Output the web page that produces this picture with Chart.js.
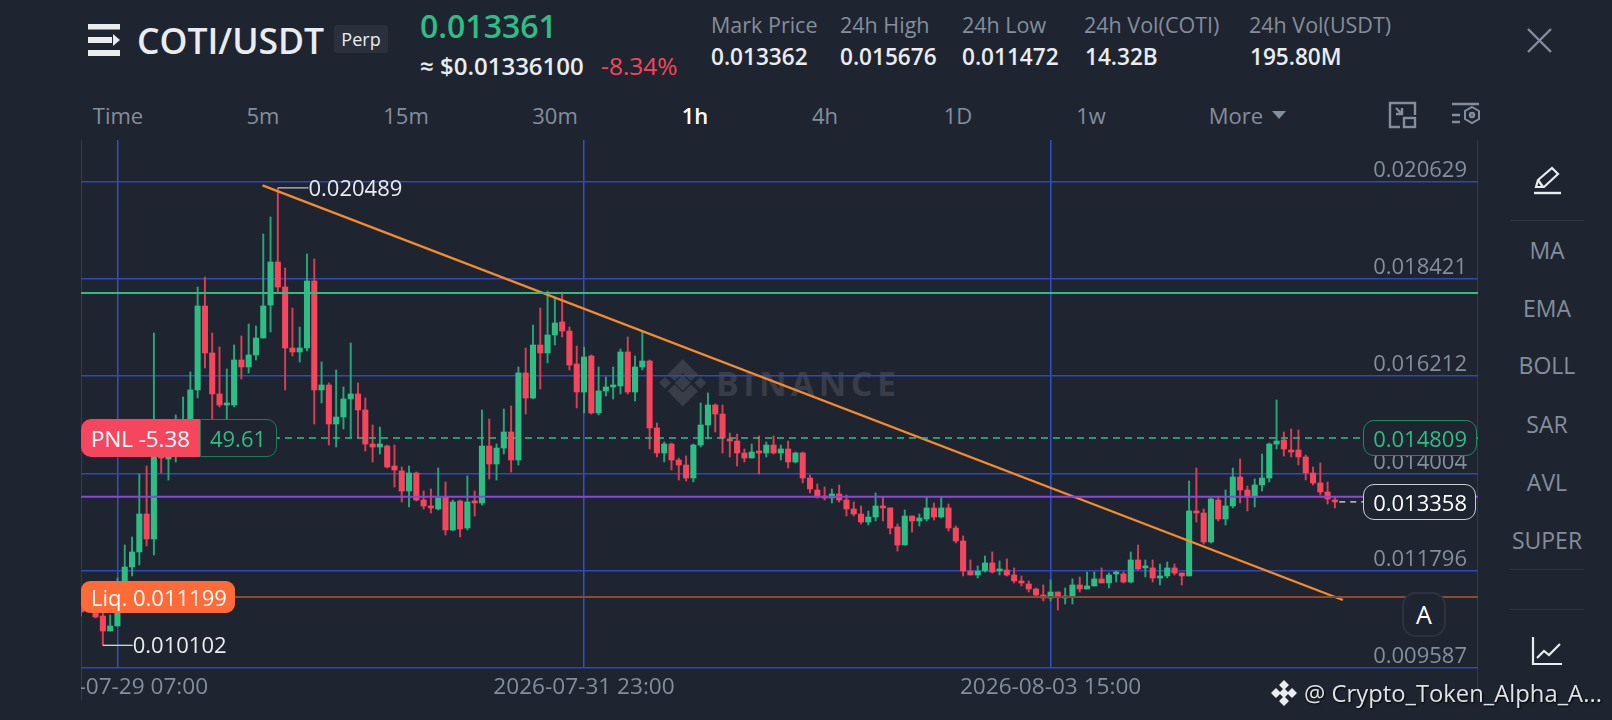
<!DOCTYPE html>
<html><head><meta charset="utf-8">
<script src="https://cdn.jsdelivr.net/npm/chart.js@4"></script>
<style>
html,body{margin:0;padding:0;background:#1f2530;width:1612px;height:720px;overflow:hidden;font-family:"Open Sans",sans-serif}
.t{position:absolute;white-space:nowrap;line-height:1;transform:translateY(-50%)}
.c{transform:translate(-50%,-50%)}
.lab{color:#848e9c;font-size:21.5px;font-family:"Open Sans"}
.val{color:#eaecef;font-size:22.6px;font-weight:600;font-family:"Open Sans"}
.tab{color:#848e9c;font-size:22px;font-family:"Open Sans"}
.side{color:#848e9c;font-size:23px;font-family:"Open Sans"}
.box{position:absolute;box-sizing:border-box}
svg{position:absolute;overflow:visible}
#wrap{position:absolute;left:81px;top:140px;width:1397px;height:560px}
.vb{position:absolute;top:140px;height:560px;width:1px;background:#343a46}
.sep{position:absolute;left:1510px;width:74px;height:1px;background:#2f3541}
</style></head><body>
<div class="vb" style="left:81px"></div><div class="vb" style="left:1477px"></div>

<svg style="left:0;top:0" width="1612" height="720" fill="none">
 <g fill="#eaecef"><rect x="88" y="24" width="32" height="5.5"/><rect x="88" y="37" width="24" height="6"/><path d="M113 34l7 6-7 6z"/><rect x="88" y="50" width="32" height="6"/></g>
 <g stroke="#848e9c" stroke-width="2.4"><path d="M1528 29l23 23M1551 29l-23 23" />
 <path d="M1400 127h-10v-24h25v12"/><path d="M1396 108l6 6M1396 114h6v-6"/><rect x="1404" y="118" width="11" height="9"/>
 <path d="M1452 104h27M1452 115h8M1452 122h8"/><path d="M1472 107l7 4v8l-7 4-7-4v-8z" stroke-width="2"/><circle cx="1472" cy="115" r="2"/>
 </g>
 <g stroke="#eaecef" stroke-width="2.4"><path d="M1534 193h27"/><path d="M1536 187l2-7 14-12 6 6-14 13z" stroke-width="2.2"/><path d="M1538 180l5 7"/></g>
 <g stroke="#eaecef" stroke-width="2.2"><path d="M1533 637v27h29"/><path d="M1537 658l7-7 5 4 11-11"/></g>
 <path d="M1272 111h14l-7 8z" fill="#848e9c"/>
</svg>

<!-- watermark under the transparent canvas -->
<svg style="left:0;top:0" width="1612" height="720"><g fill="#383d48"><path d="M682.7 359l15.3 15.5-7 6.5-8.3-8-8.2 8-7-6.5zM682.7 406.4l15.3-15.5-7-6.5-8.3 8-8.2-8-7 6.5zM682.7 374.7l8 8-8 8-8-8zM665 376.7l6 6-6 6-6-6zM700.4 376.7l6 6-6 6-6-6z"/></g></svg>
<div class="t" style="left:716px;top:383px;color:#383d48;font:700 34px 'Open Sans';letter-spacing:4.4px">BINANCE</div>

<div id="wrap"><canvas id="c" width="1397" height="560"></canvas></div>

<div class="t" style="left:137px;top:40px;color:#eaecef;font:600 35.5px 'Open Sans'">COTI/USDT</div>
<div class="box" style="left:334px;top:25px;width:54px;height:28px;background:#2a303c;border-radius:3px"></div>
<div class="t c" style="left:361px;top:39px;color:#eaecef;font:18px 'Open Sans'">Perp</div>
<div class="t" style="left:420px;top:25px;color:#2ebd85;font:600 32px 'Open Sans'">0.013361</div>
<div class="t" style="left:420px;top:65px;color:#eaecef;font:600 24px 'Open Sans'">≈ $0.01336100</div>
<div class="t" style="left:601px;top:65px;color:#f6465d;font:24.5px 'Open Sans'">-8.34%</div>

<div class="t lab" style="left:711px;top:25px">Mark Price</div><div class="t val" style="left:711px;top:57px">0.013362</div>
<div class="t lab" style="left:840px;top:25px">24h High</div><div class="t val" style="left:840px;top:57px">0.015676</div>
<div class="t lab" style="left:962px;top:25px">24h Low</div><div class="t val" style="left:962px;top:57px">0.011472</div>
<div class="t lab" style="left:1084px;top:25px">24h Vol(COTI)</div><div class="t val" style="left:1085px;top:57px">14.32B</div>
<div class="t lab" style="left:1249px;top:25px">24h Vol(USDT)</div><div class="t val" style="left:1250px;top:57px">195.80M</div>

<div class="t c tab" style="left:118px;top:115px">Time</div>
<div class="t c tab" style="left:263px;top:115px">5m</div>
<div class="t c tab" style="left:406px;top:115px">15m</div>
<div class="t c tab" style="left:555px;top:115px">30m</div>
<div class="t c tab" style="left:695px;top:115px;color:#fff;font-weight:600">1h</div>
<div class="t c tab" style="left:825px;top:115px">4h</div>
<div class="t c tab" style="left:958px;top:115px">1D</div>
<div class="t c tab" style="left:1091px;top:115px">1w</div>
<div class="t c tab" style="left:1236px;top:115px">More</div>

<div class="sep" style="top:220px"></div><div class="sep" style="top:569px"></div><div class="sep" style="top:609px"></div>
<div class="t c side" style="left:1547px;top:250px">MA</div>
<div class="t c side" style="left:1547px;top:308px">EMA</div>
<div class="t c side" style="left:1547px;top:365px">BOLL</div>
<div class="t c side" style="left:1547px;top:424px">SAR</div>
<div class="t c side" style="left:1547px;top:482px">AVL</div>
<div class="t c side" style="left:1547px;top:540px">SUPER</div>

<div class="box" style="left:81px;top:419px;width:119px;height:38px;background:#f6465d;border-radius:10px 0 0 10px"></div>
<div class="t" style="left:91px;top:438px;color:#fff;font:22.3px 'Open Sans'">PNL -5.38</div>
<div class="box" style="left:200px;top:419px;width:77px;height:38px;background:#1f2530;border:1.5px solid #1f7a5a;border-radius:0 10px 10px 0"></div>
<div class="t c" style="left:238px;top:438px;color:#2ebd85;font:22px 'Open Sans'">49.61</div>
<div class="box" style="left:81px;top:581px;width:154px;height:32px;background:#ff6b38;border-radius:9px"></div>
<div class="t" style="left:91px;top:597px;color:#fff;font:22px 'Open Sans'">Liq. 0.011199</div>

<div class="box" style="left:1363px;top:420px;width:114px;height:36px;background:#1f2530;border:1.5px solid #1f8a63;border-radius:11px"></div>
<div class="t" style="right:145px;top:438px;color:#2ebd85;font:22px 'Open Sans'">0.014809</div>
<div class="box" style="left:1363px;top:484px;width:113px;height:36px;background:#1f2530;border:1.5px solid #c9ccd1;border-radius:11px"></div>
<div class="t" style="right:145px;top:502px;color:#fff;font:22px 'Open Sans'">0.013358</div>

<div class="box" style="left:1402px;top:592px;width:44px;height:45px;background:#1f2530;border:2px solid #2c323e;border-radius:14px"></div>
<div class="t c" style="left:1424px;top:614px;color:#fff;font:25px 'Open Sans'">A</div>

<svg style="left:0;top:0" width="1612" height="720"><g fill="#eaecef"><path d="M1284 680l5 5-5 5-5-5zM1284 696l5 5-5 5-5-5zM1276 688l5 5-5 5-5-5zM1292 688l5 5-5 5-5-5zM1284 688l5 5-5 5-5-5z"/></g></svg>
<div class="t" style="left:1304px;top:693px;color:#dfe2e6;font:23.8px 'Open Sans';text-shadow:1px 1px 2px #000">@ Crypto_Token_Alpha_A...</div>

<script>
const opens=[0.011131,0.011131,0.010836,0.010768,0.010427,0.010541,0.011358,0.011881,0.012222,0.013084,
0.012517,0.014764,0.014333,0.014537,0.014651,0.014991,0.015900,0.017807,0.016740,0.015809,
0.015559,0.015559,0.016581,0.016422,0.016695,0.017080,0.017829,0.018806,0.018238,0.016853,
0.016763,0.016853,0.018374,0.015900,0.016013,0.015127,0.015286,0.015696,0.015809,0.015446,
0.014673,0.014605,0.014628,0.014174,0.014060,0.013606,0.014015,0.013402,0.013266,0.013198,
0.013470,0.012721,0.013379,0.012766,0.013357,0.013334,0.014628,0.014219,0.014582,0.014946,
0.014310,0.016286,0.015718,0.016921,0.016740,0.017148,0.017444,0.017239,0.016490,0.015854,
0.016672,0.015378,0.015877,0.015968,0.015991,0.016763,0.015854,0.016422,0.016558,0.015037,
0.014469,0.014673,0.014310,0.014196,0.013901,0.014650,0.015105,0.015559,0.015354,0.014787,
0.014741,0.014469,0.014355,0.014491,0.014469,0.014650,0.014469,0.014560,0.014265,0.014469,
0.013901,0.013629,0.013470,0.013447,0.013538,0.013402,0.013198,0.013084,0.012902,0.013016,
0.013266,0.013221,0.012789,0.012380,0.013039,0.012925,0.012970,0.013221,0.013016,0.013221,
0.012766,0.012471,0.011790,0.011699,0.011790,0.011972,0.011790,0.011813,0.011699,0.011563,
0.011495,0.011381,0.011245,0.011176,0.011313,0.011176,0.011222,0.011472,0.011381,0.011450,
0.011609,0.011518,0.011722,0.011722,0.011540,0.012040,0.011859,0.011859,0.011631,0.011677,
0.011859,0.011745,0.011677,0.013152,0.013107,0.012449,0.013402,0.012970,0.013266,0.013924,
0.013629,0.013470,0.013743,0.013901,0.014673,0.014764,0.014537,0.014537,0.014378,0.014015,
0.013788,0.013584,0.013402];
const closes=[0.010859,0.010904,0.010745,0.010427,0.010541,0.011358,0.011881,0.012222,0.013084,0.012517,
0.014423,0.014355,0.014378,0.014764,0.014991,0.015900,0.017807,0.016740,0.015809,0.015559,
0.015605,0.016581,0.016422,0.016695,0.017080,0.017807,0.018806,0.018238,0.016853,0.016763,
0.016853,0.018374,0.015900,0.016013,0.015127,0.015286,0.015696,0.015809,0.015446,0.014673,
0.014605,0.014673,0.014151,0.014083,0.013606,0.014015,0.013402,0.013266,0.013221,0.013447,
0.012721,0.013357,0.012743,0.013357,0.013334,0.014628,0.014219,0.014582,0.014946,0.014310,
0.016286,0.015718,0.016921,0.016740,0.017148,0.017421,0.017239,0.016467,0.015854,0.016649,
0.015378,0.015877,0.015968,0.016013,0.016763,0.015854,0.016422,0.016558,0.015037,0.014469,
0.014673,0.014310,0.014196,0.013901,0.014650,0.015105,0.015559,0.015354,0.014810,0.014741,
0.014469,0.014355,0.014491,0.014469,0.014650,0.014469,0.014560,0.014265,0.014469,0.013901,
0.013652,0.013470,0.013447,0.013538,0.013402,0.013198,0.013084,0.012902,0.013016,0.013266,
0.013221,0.012766,0.012380,0.013039,0.012925,0.012993,0.013221,0.013016,0.013221,0.012766,
0.012471,0.011790,0.011699,0.011790,0.011972,0.011767,0.011836,0.011699,0.011563,0.011518,
0.011381,0.011245,0.011176,0.011313,0.011199,0.011222,0.011472,0.011381,0.011450,0.011609,
0.011518,0.011699,0.011745,0.011540,0.012040,0.011836,0.011881,0.011631,0.011677,0.011859,
0.011745,0.011677,0.013152,0.013107,0.012449,0.013425,0.012970,0.013266,0.013924,0.013629,
0.013470,0.013743,0.013901,0.014673,0.014741,0.014560,0.014491,0.014378,0.014015,0.013788,
0.013584,0.013425,0.013358];
const highs=[0.011358,0.011313,0.010949,0.010836,0.010790,0.011631,0.012381,0.012562,0.013992,0.014174,
0.017194,0.015104,0.014991,0.015332,0.015741,0.016309,0.018238,0.018465,0.017194,0.016876,
0.016377,0.016922,0.017126,0.017398,0.017353,0.019442,0.019828,0.020489,0.018669,0.017761,
0.017330,0.018988,0.018874,0.016536,0.016059,0.016354,0.015968,0.016967,0.016059,0.015718,
0.015105,0.015059,0.014650,0.014650,0.014151,0.014174,0.014037,0.013606,0.013652,0.014128,
0.013811,0.013402,0.013402,0.013947,0.013606,0.015446,0.015241,0.014673,0.015468,0.015536,
0.016422,0.016853,0.017376,0.017761,0.018147,0.017989,0.018079,0.017330,0.016899,0.016876,
0.016695,0.016422,0.016195,0.016422,0.016830,0.017103,0.016672,0.017239,0.016581,0.015150,
0.014719,0.014696,0.014355,0.014401,0.014673,0.015605,0.015832,0.015582,0.015559,0.014923,
0.014900,0.014560,0.014673,0.014855,0.014719,0.014855,0.014650,0.014741,0.014491,0.014491,
0.013970,0.013765,0.013697,0.013652,0.013743,0.013516,0.013357,0.013266,0.013152,0.013561,
0.013470,0.013221,0.012857,0.013175,0.013039,0.013084,0.013470,0.013334,0.013470,0.013311,
0.012811,0.012585,0.012040,0.011904,0.012131,0.012222,0.012017,0.012063,0.011859,0.011677,
0.011563,0.011404,0.011472,0.011586,0.011313,0.011404,0.011609,0.011654,0.011767,0.011767,
0.011859,0.011745,0.011790,0.011767,0.012222,0.012380,0.012040,0.012040,0.011949,0.011995,
0.011949,0.011745,0.013833,0.014128,0.013198,0.013447,0.013470,0.013629,0.014128,0.014333,
0.013720,0.013879,0.014446,0.014696,0.015673,0.014946,0.015014,0.014991,0.014423,0.014151,
0.014242,0.013811,0.013470];
const lows=[0.010768,0.010859,0.010722,0.010102,0.010427,0.010541,0.011358,0.011677,0.011927,0.012358,
0.012154,0.014015,0.013856,0.014265,0.014537,0.014878,0.015718,0.016399,0.014991,0.015514,
0.015105,0.015514,0.016150,0.016286,0.016581,0.017080,0.017217,0.018125,0.015900,0.016672,
0.016536,0.016785,0.015127,0.015605,0.014650,0.014605,0.015014,0.014809,0.014809,0.014514,
0.014265,0.014446,0.014128,0.013697,0.013357,0.013243,0.013379,0.013198,0.013107,0.013175,
0.012607,0.012698,0.012562,0.012721,0.013039,0.013289,0.013879,0.013856,0.014446,0.014037,
0.014196,0.015354,0.015696,0.015922,0.016513,0.016921,0.017103,0.016354,0.015491,0.015378,
0.015354,0.015332,0.015764,0.015696,0.015809,0.015809,0.015650,0.016354,0.014560,0.014378,
0.014265,0.014083,0.013856,0.013833,0.013811,0.014605,0.014787,0.014946,0.014469,0.014378,
0.014174,0.014265,0.014355,0.013992,0.014378,0.014446,0.014310,0.014128,0.014242,0.013788,
0.013561,0.013447,0.013402,0.013334,0.013357,0.013039,0.013039,0.012857,0.012834,0.012925,
0.012925,0.012630,0.012244,0.012380,0.012675,0.012811,0.012925,0.012948,0.012993,0.012698,
0.012426,0.011677,0.011699,0.011631,0.011767,0.011745,0.011699,0.011677,0.011518,0.011450,
0.011313,0.011222,0.011109,0.011109,0.010904,0.011040,0.011040,0.011313,0.011381,0.011450,
0.011518,0.011404,0.011540,0.011518,0.011518,0.011813,0.011654,0.011540,0.011472,0.011631,
0.011699,0.011472,0.011677,0.012902,0.012403,0.012426,0.012925,0.012834,0.013221,0.013334,
0.013152,0.013243,0.013606,0.013811,0.014560,0.014401,0.014378,0.014196,0.013856,0.013743,
0.013516,0.013311,0.013221];

const yTickValues=[0.020629,0.018421,0.016212,0.014004,0.011796,0.009587];
const xTickIndex=[5,69,133];
const xTickLabels=['2026-07-29 07:00','2026-07-31 23:00','2026-08-03 15:00'];
const greenLevel=0.018102, purpleLevel=0.013477, liqLevel=0.011199, pnlLevel=0.014809, lastPrice=0.013358;
const trendIdx=[24.9,173.1], trendPrice=[0.020548,0.011131];
const highIdx=27, highVal=0.020489, highLabelIdx=31.2;
const lowIdx=3, lowVal=0.010102, lowLabelIdx=7.1;

const UP='#2ebd85',DOWN='#f6465d';
const X_MAX=191.63;
const isUp=i=>closes[i]>=opens[i];
const hline=(y,color,w,dash,a=0,b=X_MAX)=>({type:'line',data:[{x:a,y},{x:b,y}],borderColor:color,borderWidth:w,borderDash:dash||[],pointRadius:0,order:0,clip:true});

const extremes={id:'extremes',afterDatasetsDraw(ch){
  const {ctx,scales:{x,y}}=ch;ctx.save();
  ctx.font="22px 'Open Sans'";ctx.fillStyle='#eaecef';ctx.textBaseline='middle';ctx.textAlign='left';
  ctx.fillText(highVal.toFixed(6),x.getPixelForValue(highLabelIdx),y.getPixelForValue(highVal)+2);
  ctx.fillText(lowVal.toFixed(6),x.getPixelForValue(lowLabelIdx),y.getPixelForValue(lowVal)+1);
  ctx.restore();
}};

new Chart(document.getElementById('c'),{
  data:{datasets:[
    {type:'bar',label:'wick',data:lows.map((l,i)=>({x:i,y:[l,highs[i]]})),barThickness:1.3,grouped:false,order:2,
      backgroundColor:c=>isUp(c.dataIndex)?'#27a578':'#d83f55'},
    {type:'bar',label:'body',data:opens.map((o,i)=>({x:i,y:[o,closes[i]]})),barThickness:5.4,minBarLength:2,grouped:false,order:1,
      backgroundColor:c=>isUp(c.dataIndex)?UP:DOWN},
    hline(greenLevel,UP,2),
    hline(purpleLevel,'#8c46dc',2),
    hline(liqLevel,'#8a4a33',2),
    hline(pnlLevel,UP,1.6,[7,5]),
    hline(lastPrice,'#a9aeb6',1.6,[6,5],172.6,176),
    {type:'line',data:trendIdx.map((x,i)=>({x,y:trendPrice[i]})),borderColor:'#f58b2c',borderWidth:2.4,pointRadius:0,order:0},
    hline(highVal,'#b7bdc6',1.3,[],highIdx,highLabelIdx),
    hline(lowVal,'#d5d8dc',1.3,[],lowIdx,lowLabelIdx)
  ]},
  options:{
    responsive:false,animation:false,events:[],
    layout:{padding:0},
    plugins:{legend:{display:false},tooltip:{enabled:false}},
    scales:{
      x:{type:'linear',min:0,max:X_MAX,offset:false,
        afterBuildTicks:s=>{s.ticks=xTickIndex.map(value=>({value}))},
        afterFit:s=>{s.paddingLeft=0;s.paddingRight=0;s.height=32},
        grid:{offset:false,color:'#3350c8',lineWidth:1.5,drawTicks:false,tickLength:0},border:{display:false},
        ticks:{autoSkip:false,maxRotation:0,minRotation:0,padding:6,color:'#848e9c',font:{family:"'Open Sans'",size:22.6,lineHeight:1.2},
          callback:v=>xTickLabels[xTickIndex.indexOf(v)]}},
      y:{type:'linear',position:'right',min:0.009587,max:0.021576,
        afterBuildTicks:s=>{s.ticks=yTickValues.map(value=>({value}))},
        afterFit:s=>{s.paddingTop=0;s.paddingBottom=0;s.width=0},
        grid:{color:'#2f49b8',lineWidth:1.5,drawTicks:false,tickLength:0},border:{display:false},
        ticks:{mirror:true,padding:-11,z:3,color:'#848e9c',font:{family:"'Open Sans'",size:22,lineHeight:1},
          callback:v=>[v.toFixed(6),'']}}
    }
  },
  plugins:[extremes]
});
</script>
</body></html>
